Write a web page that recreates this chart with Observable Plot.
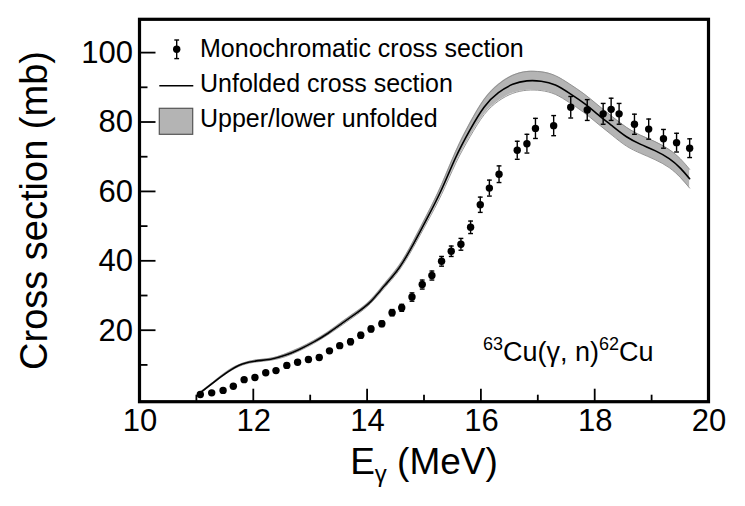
<!DOCTYPE html>
<html>
<head>
<meta charset="utf-8">
<script src="https://cdn.jsdelivr.net/npm/d3@7"></script>
<script src="https://cdn.jsdelivr.net/npm/@observablehq/plot@0.6"></script>
<style>
  html, body { margin: 0; padding: 0; background: #fff; overflow: hidden; }
  svg { display: block; }
</style>
</head>
<body>
<div id="chart"></div>
<script>
// Monochromatic (quasi-monoenergetic beam) cross section points: energy (MeV), sigma (mb), error (mb)
const monoE = [11.06, 11.26, 11.46, 11.64, 11.83, 12.02, 12.21, 12.39, 12.58, 12.77,
               12.96, 13.15, 13.33, 13.51, 13.70, 13.88, 14.06, 14.25, 14.43, 14.60,
               14.78, 14.96, 15.13, 15.30, 15.47, 15.64, 15.81, 15.98, 16.14, 16.31,
               16.63, 16.80, 16.95, 17.27, 17.57, 17.86, 18.14, 18.28, 18.42, 18.69,
               18.94, 19.20, 19.43, 19.66];
const monoXS = [1.6, 2.1, 2.8, 4.0, 5.9, 6.5, 7.9, 8.5, 10.0, 10.9,
                11.7, 12.3, 14.2, 15.7, 16.8, 18.7, 20.5, 22.0, 25.2, 26.6,
                29.7, 33.3, 35.9, 40.0, 42.9, 44.9, 49.8, 56.3, 61.1, 65.1,
                72.0, 73.9, 78.3, 79.1, 84.4, 83.6, 82.5, 83.8, 82.5, 79.5,
                78.1, 75.3, 74.2, 72.6];
const monoErr = [0.4, 0.4, 0.4, 0.4, 0.4, 0.4, 0.4, 0.4, 0.6, 0.6,
                 0.6, 0.6, 0.6, 0.6, 0.8, 0.8, 0.8, 0.8, 0.9, 1.0,
                 1.2, 1.3, 1.3, 1.4, 1.5, 1.7, 1.8, 2.2, 2.3, 2.4,
                 2.6, 2.7, 2.9, 2.9, 3.1, 3.0, 3.0, 3.2, 3.0, 2.9,
                 2.9, 2.7, 2.7, 2.7];

// Unfolded cross section with its upper / lower envelope (mb)
const unfE = [11.05, 11.30, 11.55, 11.80, 12.05, 12.30, 12.55, 12.80, 13.05, 13.30,
              13.55, 13.80, 14.05, 14.30, 14.55, 14.80, 15.05, 15.30, 15.55, 15.80,
              16.05, 16.30, 16.55, 16.80, 17.05, 17.30, 17.55, 17.80, 18.05, 18.30,
              18.55, 18.80, 19.05, 19.30, 19.50, 19.66];
const unfXS = [2.0, 5.2, 8.2, 10.4, 11.3, 11.8, 12.9, 14.6, 16.7, 19.2,
               22.1, 25.0, 28.3, 33.0, 38.0, 44.8, 52.5, 60.7, 70.0, 77.9,
               84.5, 88.6, 91.0, 92.0, 91.9, 90.8, 88.4, 85.6, 82.3, 79.0,
               75.9, 73.7, 71.9, 69.6, 66.8, 63.8];
const unfLow = [1.8, 5.0, 8.0, 10.1, 11.0, 11.5, 12.5, 14.2, 16.3, 18.8,
                21.6, 24.5, 27.8, 32.4, 37.3, 43.9, 51.4, 59.3, 68.3, 75.9,
                82.3, 86.2, 88.4, 89.3, 89.2, 88.1, 85.7, 82.9, 79.6, 76.3,
                73.2, 71.1, 69.3, 67.0, 64.1, 61.1];
const unfHigh = [2.2, 5.4, 8.5, 10.6, 11.6, 12.1, 13.3, 15.0, 17.1, 19.6,
                 22.6, 25.5, 28.8, 33.6, 38.7, 45.7, 53.6, 62.1, 71.7, 79.9,
                 86.7, 91.0, 93.6, 94.7, 94.6, 93.5, 91.1, 88.3, 85.0, 81.7,
                 78.6, 76.3, 74.5, 72.2, 69.5, 66.5];

// Axis ticks
const xMajorTicks = [10, 12, 14, 16, 18, 20];
const xMinorTicks = [11, 13, 15, 17, 19];
const yMajorTicks = [20, 40, 60, 80, 100];
const yMinorTicks = [10, 30, 50, 70, 90];

// Text
const xTitleMain = "E", xTitleSub = "γ", xTitleRest = " (MeV)";
const yTitle = "Cross section (mb)";
const legendLabels = ["Monochromatic cross section", "Unfolded cross section", "Upper/lower unfolded"];
const reaction = [["63", true], ["Cu(γ, n)", false], ["62", true], ["Cu", false]];

const mono = monoE.map((e, i) => ({E: e, xs: monoXS[i], err: monoErr[i]}));
const unf = unfE.map((e, i) => ({E: e, xs: unfXS[i], lo: unfLow[i], hi: unfHigh[i]}));

const W = 745, H = 506;
const mL = 139.5, mR = 36.5, mT = 19.3, mB = 104.3;
const font = "'Liberation Sans', Arial, Helvetica, sans-serif";

// Horizontal cap for error bars
const capSymbol = {
  draw(ctx, size) {
    const r = Math.sqrt(size / Math.PI);
    ctx.moveTo(-r, 0);
    ctx.lineTo(r, 0);
  }
};

const chart = Plot.plot({
  width: W,
  height: H,
  marginLeft: mL,
  marginRight: mR,
  marginTop: mT,
  marginBottom: mB,
  style: {fontFamily: font, background: "#fff", color: "#000"},
  x: {domain: [10, 20], label: null},
  y: {domain: [-0.6, 109.6], label: null},
  marks: [
    Plot.areaY(unf, {x: "E", y1: "lo", y2: "hi", fill: "#b4b4b4", curve: "natural"}),
    Plot.line(unf, {x: "E", y: "lo", stroke: "#8a8a8a", strokeWidth: 0.9, curve: "natural"}),
    Plot.line(unf, {x: "E", y: "hi", stroke: "#8a8a8a", strokeWidth: 0.9, curve: "natural"}),
    Plot.line(unf, {x: "E", y: "xs", stroke: "#000", strokeWidth: 1.6, curve: "natural"}),
    Plot.ruleX(mono, {x: "E", y1: d => d.xs - d.err, y2: d => d.xs + d.err, stroke: "#000", strokeWidth: 1.4}),
    Plot.dot(mono, {x: "E", y: d => d.xs + d.err, symbol: capSymbol, r: 2.4, fill: "none", stroke: "#000", strokeWidth: 1.4}),
    Plot.dot(mono, {x: "E", y: d => d.xs - d.err, symbol: capSymbol, r: 2.4, fill: "none", stroke: "#000", strokeWidth: 1.4}),
    Plot.dot(mono, {x: "E", y: "xs", r: 3.7, fill: "#000", stroke: "none"}),
    Plot.axisX({ticks: xMajorTicks, tickSize: 0, tickPadding: 7, fontSize: 31, label: null}),
    Plot.axisY({ticks: yMajorTicks, tickSize: 0, tickPadding: 7, fontSize: 31, label: null})
  ]
});

document.getElementById("chart").appendChild(chart);

const svg = d3.select(chart);
const sx = chart.scale("x"), sy = chart.scale("y");
const [x0, x1] = sx.range, [yb, yt] = sy.range;

// Inward tick marks on the bottom and left edges, placed by the plot scales
const tg = svg.append("g").attr("stroke", "#000").attr("stroke-width", 1.8);
const tick = (xa, ya, xb, yb2) => tg.append("line")
  .attr("x1", xa).attr("y1", ya).attr("x2", xb).attr("y2", yb2);
xMajorTicks.forEach(v => tick(sx.apply(v), yb, sx.apply(v), yb - 13));
xMinorTicks.forEach(v => tick(sx.apply(v), yb, sx.apply(v), yb - 7));
yMajorTicks.forEach(v => tick(x0, sy.apply(v), x0 + 16, sy.apply(v)));
yMinorTicks.forEach(v => tick(x0, sy.apply(v), x0 + 8, sy.apply(v)));

// Plot frame
svg.append("rect")
  .attr("x", x0).attr("y", yt).attr("width", x1 - x0).attr("height", yb - yt)
  .attr("fill", "none").attr("stroke", "#000").attr("stroke-width", 3.2);

// Axis titles
const xt = svg.append("text")
  .attr("x", (x0 + x1) / 2).attr("y", 474)
  .attr("text-anchor", "middle")
  .attr("font-family", font).attr("font-size", 37).attr("fill", "#000");
xt.append("tspan").text(xTitleMain);
xt.append("tspan").attr("font-size", 24).attr("dy", 8).text(xTitleSub);
xt.append("tspan").attr("dy", -8).text(xTitleRest);

svg.append("text")
  .attr("transform", `translate(47,${(yt + yb) / 2}) rotate(-90)`)
  .attr("text-anchor", "middle")
  .attr("font-family", font).attr("font-size", 38).attr("fill", "#000")
  .text(yTitle);

// Reaction label
const rt = svg.append("text")
  .attr("x", 483).attr("y", 361)
  .attr("text-anchor", "start")
  .attr("font-family", font).attr("font-size", 27).attr("fill", "#000");
let raised = false;
reaction.forEach(([s, sup]) => {
  const t = rt.append("tspan").text(s);
  if (sup) { t.attr("font-size", 18).attr("dy", -11); raised = true; }
  else if (raised) { t.attr("dy", 11); raised = false; }
});

// Legend
const lg = svg.append("g").attr("font-family", font).attr("font-size", 25)
  .attr("fill", "#000").attr("text-anchor", "start");
const mx = 176.7, my = 49.3;
lg.append("line").attr("x1", mx).attr("x2", mx).attr("y1", my - 9.3).attr("y2", my + 9.3)
  .attr("stroke", "#000").attr("stroke-width", 1.4);
[my - 9.3, my + 9.3].forEach(y => lg.append("line")
  .attr("x1", mx - 2.4).attr("x2", mx + 2.4).attr("y1", y).attr("y2", y)
  .attr("stroke", "#000").attr("stroke-width", 1.4));
lg.append("circle").attr("cx", mx).attr("cy", my).attr("r", 3.7).attr("fill", "#000");
lg.append("line").attr("x1", 159.3).attr("x2", 193.3).attr("y1", 85.7).attr("y2", 85.7)
  .attr("stroke", "#000").attr("stroke-width", 1.6);
lg.append("rect").attr("x", 159.3).attr("y", 108.3).attr("width", 33.4).attr("height", 26)
  .attr("fill", "#b4b4b4").attr("stroke", "#555").attr("stroke-width", 1.2);
[57, 92, 127].forEach((y, i) => lg.append("text").attr("x", 200).attr("y", y).text(legendLabels[i]));
</script>
</body>
</html>
